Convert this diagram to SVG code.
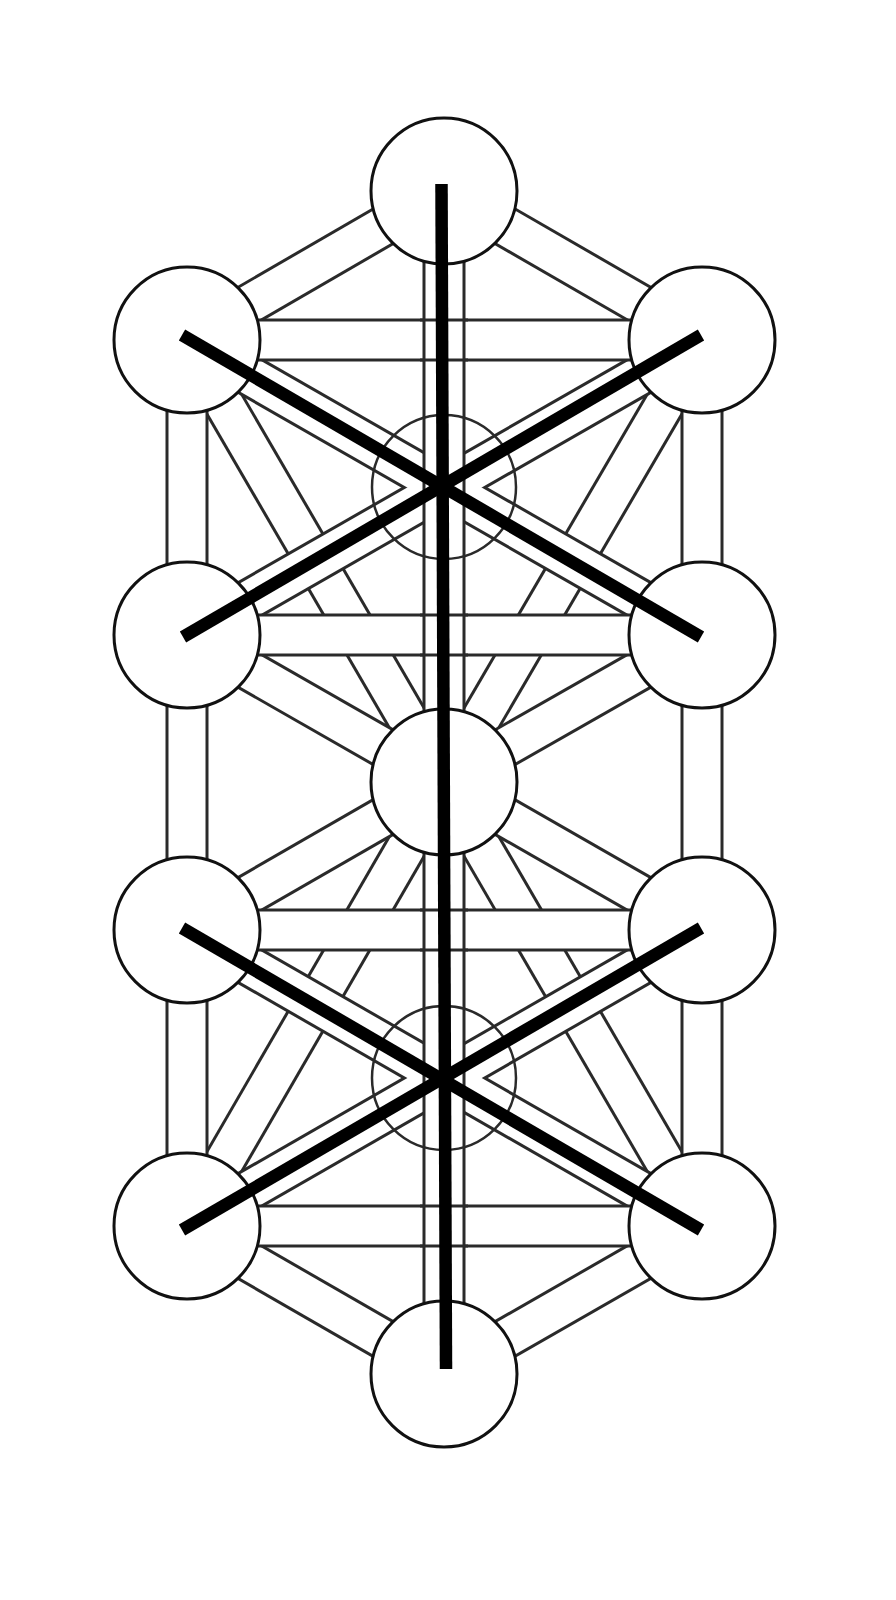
<svg xmlns="http://www.w3.org/2000/svg" width="896" height="1600" viewBox="0 0 896 1600">
<style>
.tb{stroke:#2a2a2a;stroke-width:43;stroke-linecap:butt;fill:none}
.tw{stroke:#fff;stroke-width:37;stroke-linecap:butt;fill:none}
.edge{stroke:#2a2a2a;stroke-width:3;fill:none}
.node{fill:#fff;stroke:#111;stroke-width:3}
.hid{fill:none;stroke:#2a2a2a;stroke-width:2.5}
.bold{stroke:#000;stroke-width:12.5;stroke-linecap:butt;fill:none}
</style>
<rect width="896" height="1600" fill="#fff"/>
<g id="connectors">
  <g>
    <line class="tb" x1="187" y1="340" x2="444" y2="782"/><line class="tw" x1="187" y1="340" x2="444" y2="782"/>
    <line class="tb" x1="702" y1="340" x2="444" y2="782"/><line class="tw" x1="702" y1="340" x2="444" y2="782"/>
    <line class="tb" x1="187" y1="1226" x2="444" y2="782"/><line class="tw" x1="187" y1="1226" x2="444" y2="782"/>
    <line class="tb" x1="702" y1="1226" x2="444" y2="782"/><line class="tw" x1="702" y1="1226" x2="444" y2="782"/>
  </g>
  <g>
    <line class="tb" x1="444" y1="191" x2="187" y2="340"/><line class="tw" x1="444" y1="191" x2="187" y2="340"/>
    <line class="tb" x1="444" y1="191" x2="702" y2="340"/><line class="tw" x1="444" y1="191" x2="702" y2="340"/>
    <line class="tb" x1="444" y1="1374" x2="187" y2="1226"/><line class="tw" x1="444" y1="1374" x2="187" y2="1226"/>
    <line class="tb" x1="444" y1="1374" x2="702" y2="1226"/><line class="tw" x1="444" y1="1374" x2="702" y2="1226"/>
    <line class="tb" x1="187" y1="340" x2="187" y2="1226"/><line class="tw" x1="187" y1="340" x2="187" y2="1226"/>
    <line class="tb" x1="702" y1="340" x2="702" y2="1226"/><line class="tw" x1="702" y1="340" x2="702" y2="1226"/>
    <line class="tb" x1="187" y1="635" x2="444" y2="782"/><line class="tw" x1="187" y1="635" x2="444" y2="782"/>
    <line class="tb" x1="702" y1="635" x2="444" y2="782"/><line class="tw" x1="702" y1="635" x2="444" y2="782"/>
    <line class="tb" x1="187" y1="930" x2="444" y2="782"/><line class="tw" x1="187" y1="930" x2="444" y2="782"/>
    <line class="tb" x1="702" y1="930" x2="444" y2="782"/><line class="tw" x1="702" y1="930" x2="444" y2="782"/>
  </g>
  <g>
    <line class="tb" x1="187" y1="340" x2="702" y2="635"/><line class="tb" x1="702" y1="340" x2="187" y2="635"/>
    <line class="tw" x1="187" y1="340" x2="702" y2="635"/><line class="tw" x1="702" y1="340" x2="187" y2="635"/>
    <line class="tb" x1="187" y1="930" x2="702" y2="1226"/><line class="tb" x1="702" y1="930" x2="187" y2="1226"/>
    <line class="tw" x1="187" y1="930" x2="702" y2="1226"/><line class="tw" x1="702" y1="930" x2="187" y2="1226"/>
  </g>
  <g>
    <line class="tb" x1="187" y1="340" x2="702" y2="340"/><line class="tw" x1="187" y1="340" x2="702" y2="340"/>
    <line class="tb" x1="187" y1="635" x2="702" y2="635"/><line class="tw" x1="187" y1="635" x2="702" y2="635"/>
    <line class="tb" x1="187" y1="930" x2="702" y2="930"/><line class="tw" x1="187" y1="930" x2="702" y2="930"/>
    <line class="tb" x1="187" y1="1226" x2="702" y2="1226"/><line class="tw" x1="187" y1="1226" x2="702" y2="1226"/>
  </g>
  <line class="tb" x1="444" y1="191" x2="444" y2="1374"/><line class="tw" x1="444" y1="191" x2="444" y2="1374"/>
  <g>
    <line class="edge" x1="420" y1="320" x2="468" y2="320"/><line class="edge" x1="420" y1="360" x2="468" y2="360"/>
    <line class="edge" x1="420" y1="615" x2="468" y2="615"/><line class="edge" x1="420" y1="655" x2="468" y2="655"/>
    <line class="edge" x1="420" y1="910" x2="468" y2="910"/><line class="edge" x1="420" y1="950" x2="468" y2="950"/>
    <line class="edge" x1="420" y1="1206" x2="468" y2="1206"/><line class="edge" x1="420" y1="1246" x2="468" y2="1246"/>
  </g>
</g>
<g id="n-top"><circle class="node" cx="444" cy="191" r="73"/></g>
<g id="n-l1"><circle class="node" cx="187" cy="340" r="73"/></g>
<g id="n-r1"><circle class="node" cx="702" cy="340" r="73"/></g>
<g id="n-h1"><circle class="hid" cx="444" cy="487" r="72"/></g>
<g id="n-l2"><circle class="node" cx="187" cy="635" r="73"/></g>
<g id="n-r2"><circle class="node" cx="702" cy="635" r="73"/></g>
<g id="n-c"><circle class="node" cx="444" cy="782" r="73"/></g>
<g id="n-l3"><circle class="node" cx="187" cy="930" r="73"/></g>
<g id="n-r3"><circle class="node" cx="702" cy="930" r="73"/></g>
<g id="n-h2"><circle class="hid" cx="444" cy="1078" r="72"/></g>
<g id="n-l4"><circle class="node" cx="187" cy="1226" r="73"/></g>
<g id="n-r4"><circle class="node" cx="702" cy="1226" r="73"/></g>
<g id="n-bottom"><circle class="node" cx="444" cy="1374" r="73"/></g>
<g id="overlay">
  <line class="bold" x1="441.5" y1="184" x2="446" y2="1369"/>
  <line class="bold" x1="182" y1="335" x2="701" y2="637"/>
  <line class="bold" x1="701" y1="335" x2="183" y2="637"/>
  <line class="bold" x1="182" y1="928" x2="701" y2="1230"/>
  <line class="bold" x1="701" y1="928" x2="182" y2="1230"/>
</g>
</svg>
